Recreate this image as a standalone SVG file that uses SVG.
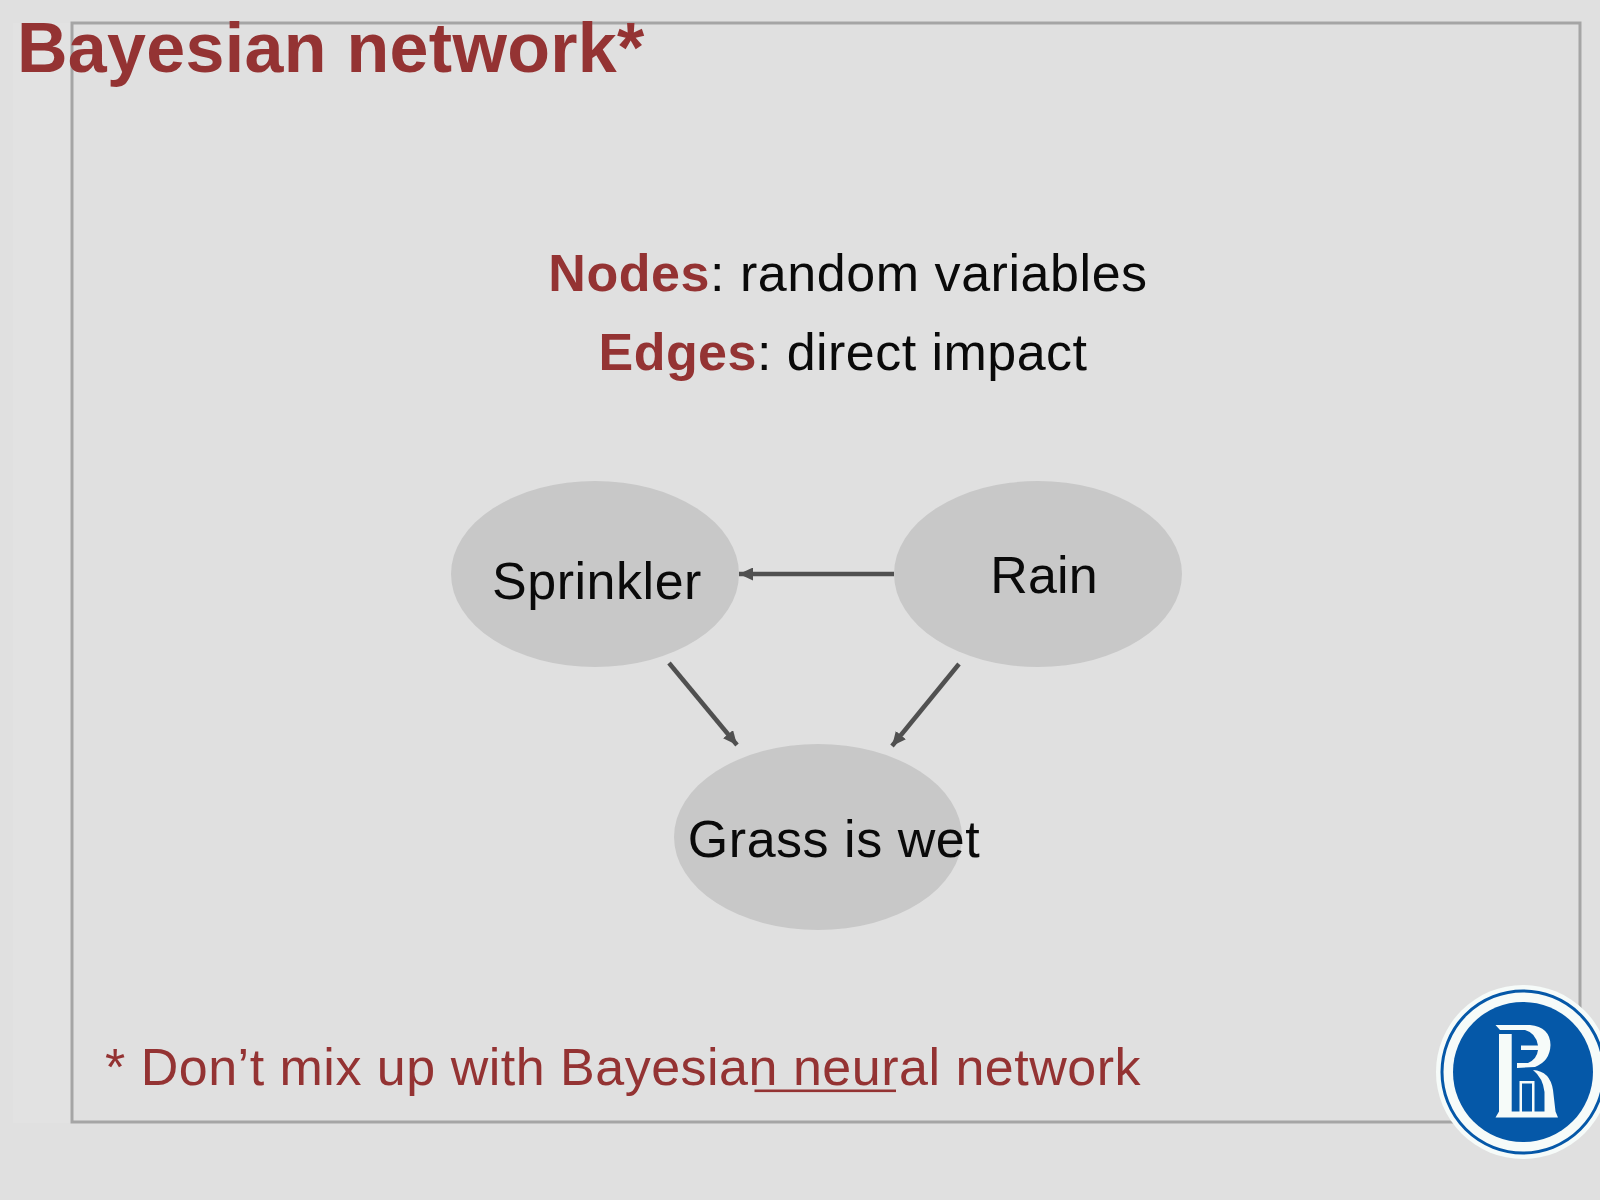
<svg xmlns="http://www.w3.org/2000/svg" width="1600" height="1200" viewBox="0 0 1600 1200">
<style>
text{font-family:"Liberation Sans",Arial,sans-serif}
.r{fill:#943333}.b{font-weight:bold}.k{fill:#0a0a0a}
.n{fill:#c8c8c8}.t{font-size:52px;fill:#0a0a0a;letter-spacing:.52px}
.e{stroke:#505050;stroke-width:4.5;fill:none}
.w{fill:#f6fbf9}.bl{fill:#0558a8}
</style>
<defs><marker id="a" markerUnits="userSpaceOnUse" markerWidth="15" markerHeight="13" refX="14" refY="6.5" orient="auto"><path d="M0 0L14 6.5L0 13z" fill="#505050"/></marker></defs>
<rect width="1600" height="1200" fill="#e0e0e0"/>
<rect x="13" y="23" width="60" height="1100" fill="#e2e2e2"/>
<rect x="72" y="23" width="1508" height="1099" fill="none" stroke="#a5a5a5" stroke-width="3"/>
<text x="17" y="72" font-size="70" letter-spacing=".3" class="r b">Bayesian network*</text>
<text x="848" y="291" text-anchor="middle" font-size="52" letter-spacing=".55" class="k"><tspan class="r b">Nodes</tspan>: random variables</text>
<text x="843" y="370" text-anchor="middle" font-size="52" letter-spacing=".46" class="k"><tspan class="r b">Edges</tspan>: direct impact</text>
<g id="node-sprinkler"><ellipse class="n" cx="595" cy="574" rx="144" ry="93"/><text class="t" x="597" y="599" text-anchor="middle">Sprinkler</text></g>
<g id="node-rain"><ellipse class="n" cx="1038" cy="574" rx="144" ry="93"/><text class="t" x="1044" y="593" text-anchor="middle" style="letter-spacing:.1px">Rain</text></g>
<g id="node-grass"><ellipse class="n" cx="818" cy="837" rx="144" ry="93"/><text class="t" x="834" y="857" text-anchor="middle">Grass is wet</text></g>
<g id="connectors">
<line class="e" x1="894" y1="574" x2="739" y2="574" marker-end="url(#a)"/>
<line class="e" x1="669" y1="663" x2="737" y2="745" marker-end="url(#a)"/>
<line class="e" x1="959" y1="664" x2="892" y2="746" marker-end="url(#a)"/>
</g>
<text x="105" y="1085" font-size="52" letter-spacing=".5" class="r">* Don’t mix up with Bayesian neural network</text>
<rect x="754.5" y="1089.5" width="141.5" height="2.6" fill="#943333"/>
<g id="logo">
<circle class="w" cx="1523" cy="1072" r="87"/>
<circle cx="1523" cy="1072" r="81" fill="none" stroke="#0558a8" stroke-width="3"/>
<circle class="bl" cx="1523" cy="1072" r="70"/>
<path class="w" d="M1495.5 1025H1530Q1550 1027 1550.5 1045Q1550 1061 1535 1067L1517 1068V1063H1528Q1537 1059 1538 1050H1521V1045.5H1538Q1536 1033 1525 1030H1500Z"/>
<path class="w" d="M1499 1034H1511.7V1111.5H1519.5V1081H1534.5V1083.5H1522V1111.5H1532V1083H1534.5V1111.5H1544.5V1092Q1543 1078 1533 1070Q1550 1071 1553 1090L1555.5 1111.5L1558 1117.5H1495.5L1499 1111.5Z"/>
</g>
</svg>
